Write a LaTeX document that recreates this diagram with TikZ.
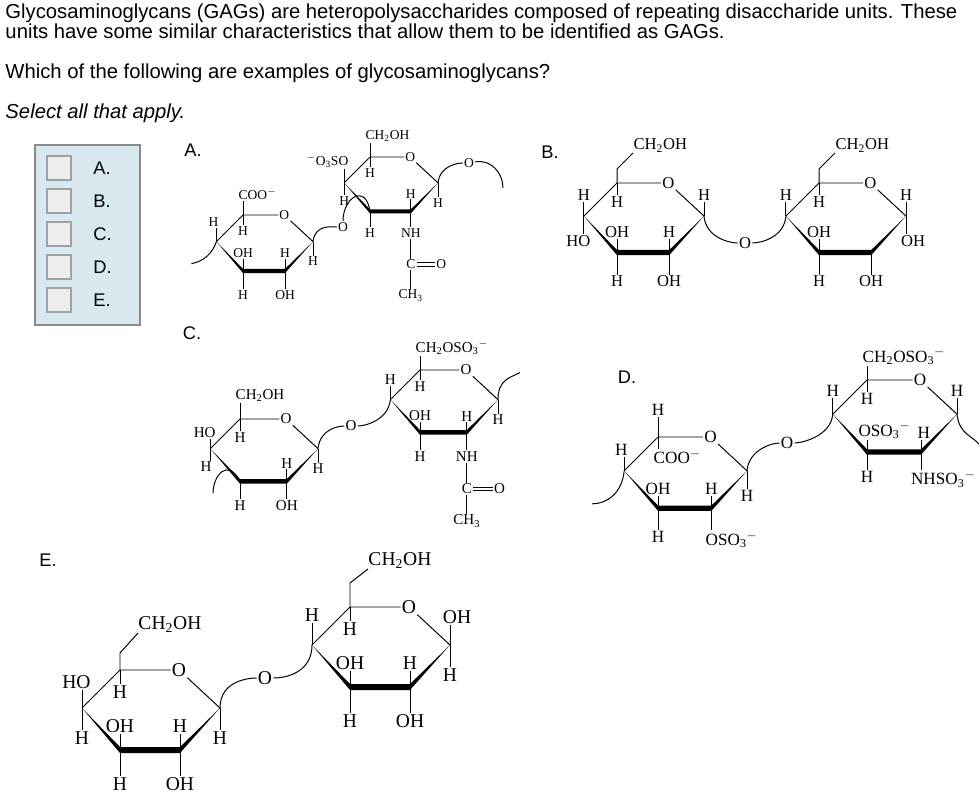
\documentclass[tikz,border=0pt]{standalone}
\usepackage{fontspec}
\setmainfont{Liberation Serif}
\setsansfont{Liberation Sans}
\usetikzlibrary{positioning}

\definecolor{panelblue}{HTML}{D8E8EE}
\definecolor{panelgray}{HTML}{8A8A8A}
\definecolor{boxfill}{HTML}{EDEDED}

\tikzset{
  atom/.style={inner sep=0.6pt},
  qtext/.style={font=\sffamily\fontsize{14.4}{15}\selectfont,anchor=west,inner sep=0pt},
  tag/.style={font=\sffamily\fontsize{13}{14}\selectfont,inner sep=0pt},
  checkbox/.style={draw=panelgray!80,fill=boxfill,line width=1.2pt,minimum size=17pt,inner sep=0pt},
}

% ring: name, x, y (position of C5), scale
\newcommand{\sugarring}[4]{%
  \begin{scope}[shift={(#2,#3)},scale=#4]
    \coordinate (#1-5) at (0,0);
    \coordinate (#1-1) at (100,38);
    \coordinate (#1-2) at (60,80);
    \coordinate (#1-3) at (0,80);
    \coordinate (#1-4) at (-38,38);
    \node[atom] (#1-o) at (59,0) {O};
    \draw (#1-4) -- (#1-5) -- (#1-o) -- (#1-1);
    \fill (-38,38) -- (0,77) -- (60,77) -- (100,38) -- (60,83) -- (0,83) -- cycle;
  \end{scope}}
\newcommand{\subup}[4][]{\draw (#2) -- ++(0,-#3) node[atom,above,#1] {#4};}
\newcommand{\subdn}[4][]{\draw (#2) -- ++(0,#3) node[atom,below,#1] {#4};}
\newcommand{\chtwo}{CH\textsubscript{2}OH}
\newcommand{\sulf}{SO\textsubscript{3}\textsuperscript{$-$}}

\begin{document}
\begin{tikzpicture}[x=0.025cm,y=-0.025cm,line width=0.7pt]
  \useasboundingbox (0,0) rectangle (979,800);

  % Question
  \node[qtext] (q1) at (5,13) {Glycosaminoglycans (GAGs) are heteropolysaccharides composed of repeating disaccharide units. These};
  \node[qtext] (q2) at (5,31) {units have some similar characteristics that allow them to be identified as GAGs.};
  \node[qtext] (q3) at (5,73) {Which of the following are examples of glycosaminoglycans?};
  \node[qtext,font=\sffamily\itshape\fontsize{14.4}{15}\selectfont] (q4) at (5,113) {Select all that apply.};

  % Answer panel
  \draw[panelgray,line width=1.2pt,fill=panelblue] (35,145) rectangle (140,325);
  \foreach \ypos/\letter in {168/A,201/B,234/C,267/D,300/E} {
    \node[checkbox] (box\letter) at (59,\ypos) {};
    \node[tag,anchor=west] (opt\letter) at (93,\ypos) {\letter.};
  }

  % Section labels
  \node[tag] (tagA) at (193,150) {A.};
  \node[tag] (tagB) at (550,152) {B.};
  \node[tag] (tagC) at (192,333) {C.};
  \node[tag] (tagD) at (627,377) {D.};
  \node[tag] (tagE) at (48,560) {E.};

  % A
  \begin{scope}[every node/.append style={font=\fontsize{9.6}{10}\selectfont}]
    \sugarring{A1}{243}{215}{0.7}
    \sugarring{A2}{370}{157}{0.68}
    \subup[anchor=south west,xshift=-4pt]{A1-5}{14}{COO\textsuperscript{$-$}}
    \subup[xshift=-2pt]{A1-4}{14}{H}
    \draw (A1-4) .. controls +(-4,12) and +(12,-2) .. ++(-25,22);
    \subdn{A1-5}{10}{H}
    \subup{A1-3}{12}{OH} \subdn{A1-3}{18}{H}
    \subup{A1-2}{12}{H} \subdn{A1-2}{18}{OH}
    \subdn{A1-1}{14}{H}
    \node[atom] (AO) at (343,227) {O};
    \draw (A1-1) .. controls +(2,-18) and +(-10,0) .. (AO);
    \draw (AO) .. controls +(0,-30) and +(-4,-28) .. (A2-3);
    \subup[xshift=-12pt]{A2-4}{14}{\textsuperscript{$-$}O\textsubscript{3}SO}
    \subdn{A2-4}{12}{H}
    \subup[anchor=south west,xshift=-4pt]{A2-5}{14}{\chtwo}
    \subdn{A2-5}{10}{H}
    \subdn{A2-3}{16}{H}
    \subup{A2-2}{12}{H}
    \draw (A2-2) -- ++(0,16) node[atom,below] (ANH) {NH};
    \node[atom,below=14pt of ANH] (AC) {C};
    \node[atom,right=13pt of AC] (ACO) {O};
    \node[atom,below=13pt of AC] (ACH) {CH\textsubscript{3}};
    \draw (ANH) -- (AC);
    \draw[double,double distance=1.6pt] (AC) -- (ACO);
    \draw (AC) -- (ACH);
    \subdn{A2-1}{14}{H}
    \node[atom] (AO2) at (469,163) {O};
    \draw (A2-1) .. controls +(2,-18) and +(-10,0) .. (AO2);
    \draw (AO2) .. controls +(22,-4) and +(0,-15) .. ++(34,25);
  \end{scope}

  % B
  \begin{scope}[every node/.append style={font=\fontsize{11.8}{12}\selectfont}]
    \sugarring{B1}{617}{183}{0.87}
    \sugarring{B2}{819}{183}{0.87}
    \foreach \r in {B1,B2} {
      \subup{\r-4}{14}{H}
      \draw (\r-5) -- ++(0,-14) -- ++(16,-16) node[atom,anchor=south west,inner sep=0pt] {\chtwo};
      \subdn{\r-5}{12}{H}
      \subup{\r-3}{14}{OH} \subdn{\r-3}{22}{H}
      \subdn{\r-2}{22}{OH}
      \subup{\r-1}{14}{H}
    }
    \subup{B1-2}{14}{H}
    \subdn[xshift=-4pt]{B1-4}{18}{HO}
    \subdn[xshift=5pt]{B2-1}{18}{OH}
    \node[atom] (BO) at (745,243) {O};
    \draw (B1-1) .. controls +(2,22) and +(-15,0) .. (BO);
    \draw (BO) .. controls +(15,0) and +(-2,22) .. (B2-4);
  \end{scope}

  % C
  \begin{scope}[every node/.append style={font=\fontsize{10.7}{11}\selectfont}]
    \sugarring{C1}{240}{419}{0.78}
    \sugarring{C2}{420}{370}{0.78}
    \subup[anchor=south west,xshift=-4pt]{C1-5}{16}{\chtwo}
    \subup[xshift=-4pt]{C1-4}{10}{HO}
    \subdn[xshift=-3pt]{C1-4}{12}{H}
    \draw (C1-3) .. controls +(-12,-24) and +(0,-18) .. ++(-27,12);
    \subdn{C1-5}{12}{H}
    \subdn{C1-3}{18}{H}
    \subup{C1-2}{12}{H} \subdn{C1-2}{18}{OH}
    \subdn{C1-1}{14}{H}
    \node[atom] (CO) at (351,426) {O};
    \draw (C1-1) .. controls +(2,-20) and +(-12,0) .. (CO);
    \draw (CO) .. controls +(15,0) and +(-2,20) .. (C2-4);
    \subup[anchor=south west,xshift=-4pt]{C2-5}{14}{CH\textsubscript{2}O\sulf}
    \subup{C2-4}{14}{H}
    \subdn{C2-5}{10}{H}
    \subup{C2-3}{10}{OH} \subdn{C2-3}{18}{H}
    \subup{C2-2}{10}{H}
    \draw (C2-2) -- ++(0,18) node[atom,below] (CNH) {NH};
    \node[atom,below=14pt of CNH] (CC) {C};
    \node[atom,right=14pt of CC] (CCO) {O};
    \node[atom,below=13pt of CC] (CCH) {CH\textsubscript{3}};
    \draw (CNH) -- (CC);
    \draw[double,double distance=1.6pt] (CC) -- (CCO);
    \draw (CC) -- (CCH);
    \subdn{C2-1}{14}{H}
    \draw (C2-1) .. controls +(0,-20) and +(-10,5) .. ++(22,-27);
  \end{scope}

  % D
  \begin{scope}[every node/.append style={font=\fontsize{12.2}{13}\selectfont}]
    \sugarring{D1}{658}{437}{0.89}
    \sugarring{D2}{867}{380}{0.9}
    \subup{D1-5}{20}{H}
    \subup[xshift=-2pt]{D1-4}{14}{H}
    \draw (D1-4) .. controls +(-2,22) and +(15,0) .. ++(-32,33);
    \subdn[anchor=north west,xshift=-4pt]{D1-5}{12}{COO\textsuperscript{$-$}}
    \subup{D1-3}{12}{OH} \subdn{D1-3}{22}{H}
    \subup{D1-2}{12}{H} \subdn[anchor=north west,xshift=-5pt]{D1-2}{22}{O\sulf}
    \subdn{D1-1}{18}{H}
    \node[atom] (DO) at (787,443) {O};
    \draw (D1-1) .. controls +(2,-22) and +(-14,0) .. (DO);
    \draw (DO) .. controls +(15,0) and +(-2,22) .. (D2-4);
    \subup[anchor=south west,xshift=-4pt]{D2-5}{14}{CH\textsubscript{2}O\sulf}
    \subup{D2-4}{16}{H}
    \subdn{D2-5}{12}{H}
    \subup[anchor=south west,xshift=-7pt]{D2-3}{12}{O\sulf}
    \subup[xshift=2pt]{D2-2}{12}{H}
    \subdn{D2-3}{18}{H}
    \subdn[anchor=north west,xshift=-8pt]{D2-2}{18}{NH\sulf}
    \subup{D2-1}{16}{H}
    \draw (D2-1) .. controls +(2,20) and +(-6,-8) .. ++(22,30);
  \end{scope}

  % E
  \begin{scope}[every node/.append style={font=\fontsize{13.9}{14}\selectfont}]
    \sugarring{E1}{120}{670}{1}
    \sugarring{E2}{350}{607}{1}
    \subup[xshift=-4pt]{E1-4}{18}{HO}
    \subdn{E1-4}{22}{H}
    \draw (E1-5) -- ++(0,-17) -- ++(18,-20) node[atom,anchor=south west,inner sep=0pt] {\chtwo};
    \draw (E2-5) -- ++(0,-24) -- ++(18,-14) node[atom,anchor=south west,inner sep=0pt] {\chtwo};
    \foreach \r in {E1,E2} {
      \subdn{\r-5}{14}{H}
      \subup{\r-3}{16}{OH} \subdn{\r-3}{26}{H}
      \subup{\r-2}{16}{H} \subdn{\r-2}{26}{OH}
      \subdn{\r-1}{22}{H}
    }
    \subup{E2-4}{22}{H}
    \subup[xshift=5pt]{E2-1}{20}{OH}
    \node[atom] (EO) at (265,678) {O};
    \draw (E1-1) .. controls +(0,-28) and +(-15,0) .. (EO);
    \draw (EO) .. controls +(25,0) and +(0,25) .. (E2-4);
  \end{scope}
\end{tikzpicture}
\end{document}
